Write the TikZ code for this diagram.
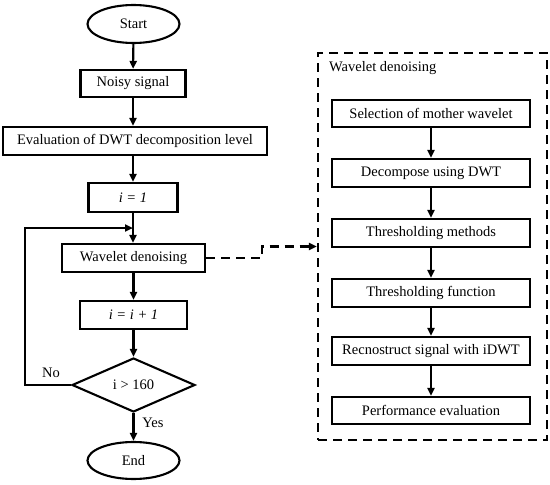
\documentclass[tikz,border=0pt]{standalone}
\usepackage{fontspec}
\setmainfont{Liberation Serif}
\usetikzlibrary{shapes.geometric,arrows.meta}
\begin{document}
\begin{tikzpicture}[x=1pt,y=-1pt,
  every node/.style={font=\fontsize{14.5}{17}\selectfont},
  lw/.style={line width=2.1pt},
  box/.style={draw,lw,rectangle,inner sep=0pt,minimum height=28},
  term/.style={draw,lw,ellipse,inner sep=0pt,minimum width=92,minimum height=38},
  dec/.style={draw,lw,diamond,inner sep=0pt,minimum width=123,minimum height=54},
  arr/.style={lw,-{Triangle[length=8pt,width=7pt]}},
  darr/.style={lw,dash pattern=on 9pt off 6pt,-{Triangle[length=8pt,width=7pt]}}
]
\useasboundingbox (0,0) rectangle (550,485);
% left column
\node[term] (start) at (133.5,24) {Start};
\node[box,minimum width=105,minimum height=27] (noisy) at (133,83.5) {Noisy signal};
\node[box,minimum width=264] (eval) at (135,141) {Evaluation of DWT decomposition level};
\node[box,minimum width=89,minimum height=29] (ione) at (133,197.5) {\textit{i = 1}};
\node[box,minimum width=143] (wav) at (133.5,258) {Wavelet denoising};
\node[box,minimum width=107] (inc) at (133.5,315) {\textit{i = i + 1}};
\node[dec] (dia) at (133.5,385) {i > 160};
\node[term,minimum height=37] (end) at (133.5,460.5) {End};
\node (no) at (51,373) {No};
\node (yes) at (153,423) {Yes};
% right dashed group
\node[draw,lw,dash pattern=on 9pt off 6pt,inner sep=0pt,minimum width=229,minimum height=387] (wd) at (432.5,246.5) {};
\node[anchor=west,inner sep=0pt] (wdt) at (329,68) {Wavelet denoising};
\node[box,minimum width=198,minimum height=27] (sel) at (431,113.5) {Selection of mother wavelet};
\node[box,minimum width=198] (dwt) at (431,173) {Decompose using DWT};
\node[box,minimum width=198] (thm) at (431,233) {Thresholding methods};
\node[box,minimum width=198] (thf) at (431,293) {Thresholding function};
\node[box,minimum width=198] (rec) at (431,351) {Recnostruct signal with iDWT};
\node[box,minimum width=198,minimum height=27] (perf) at (431,410.5) {Performance evaluation};
% connectors left
\draw[arr] (start) -- (noisy);
\draw[arr] (noisy.south) -- (noisy.south |- eval.north);
\draw[arr] (eval.south -| ione.north) -- (ione.north);
\draw[arr] (ione.south) -- (ione.south |- wav.north);
\draw[arr] (wav.south) -- (wav.south |- inc.north);
\draw[arr] (inc.south) -- (inc.south |- dia.north);
\draw[arr] (dia.south) -- (end.north);
\coordinate (lc) at (25,385);
\coordinate (lp) at (133,228);
\draw[arr] (dia.west) -- (lc) |- (lp);
% dashed link
\coordinate (dk) at (262,258);
\draw[darr] (wav.east) -- (dk) |- (wd.west);
% connectors right
\draw[arr] (sel) -- (dwt);
\draw[arr] (dwt) -- (thm);
\draw[arr] (thm) -- (thf);
\draw[arr] (thf) -- (rec);
\draw[arr] (rec) -- (perf);
\end{tikzpicture}
\end{document}
